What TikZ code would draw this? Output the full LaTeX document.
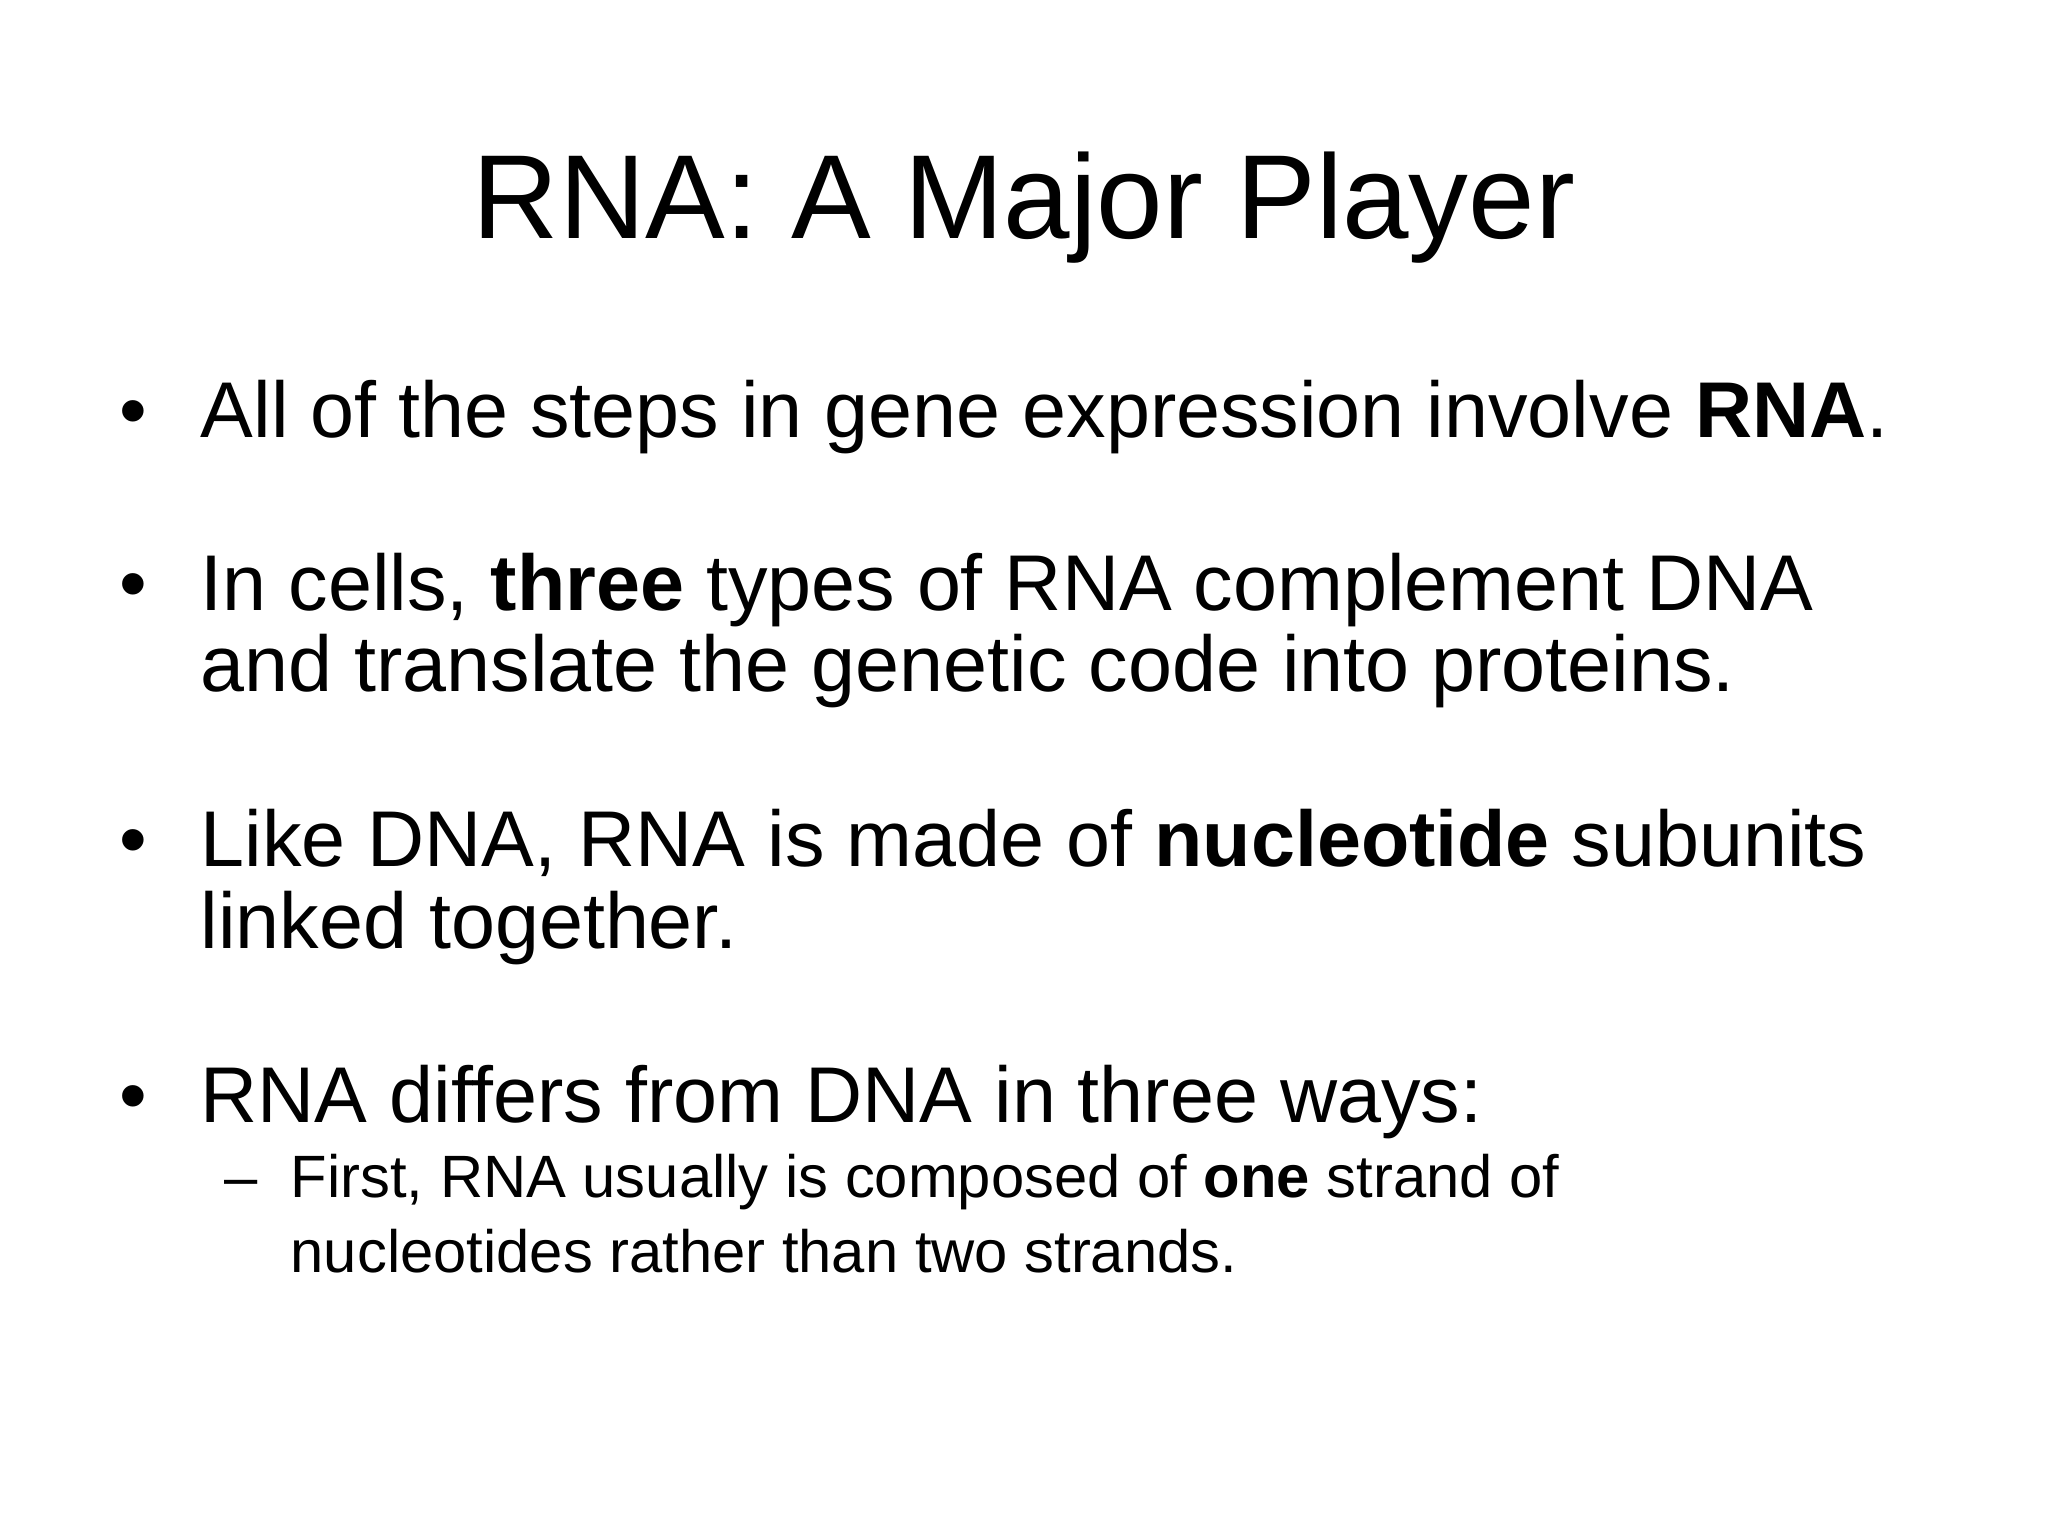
\documentclass[tikz,border=0pt]{standalone}
\usepackage{fontspec}
\setmainfont{Liberation Sans}
\begin{document}
\begin{tikzpicture}[x=1cm,y=1cm,
  big/.style={anchor=base west,inner sep=0pt,font=\fontsize{22.5pt}{27pt}\selectfont},
  small/.style={anchor=base west,inner sep=0pt,font=\fontsize{17pt}{20pt}\selectfont}]
\useasboundingbox[fill=white] (0,0) rectangle (20.48,15.36);
\node[anchor=base,inner sep=0pt,font=\fontsize{34pt}{40pt}\selectfont] (title) at (10.24,15.36-2.39) {RNA: A Major Player};
\foreach \y/\n in {4.375/b1,6.11/b2,8.67/b3,11.23/b4}{
  \node[big,anchor=base] (\n) at (1.33,15.36-\y) {•};
}
\node[big] (t1) at (2.0,15.36-4.375) {All of the steps in gene expression involve \textbf{RNA}.};
\node[big] (t2a) at (2.0,15.36-6.11) {In cells, \textbf{three} types of RNA complement DNA};
\node[big] (t2b) at (2.0,15.36-6.92) {and translate the genetic code into proteins.};
\node[big] (t3a) at (2.0,15.36-8.67) {Like DNA, RNA is made of \textbf{nucleotide} subunits};
\node[big] (t3b) at (2.0,15.36-9.49) {linked together.};
\node[big] (t4) at (2.0,15.36-11.23) {RNA differs from DNA in three ways:};
\node[small] (d) at (2.24,15.36-11.98) {–};
\node[small] (s1) at (2.9,15.36-11.98) {First, RNA usually is composed of \textbf{one} strand of};
\node[small] (s2) at (2.9,15.36-12.73) {nucleotides rather than two strands.};
\end{tikzpicture}
\end{document}
